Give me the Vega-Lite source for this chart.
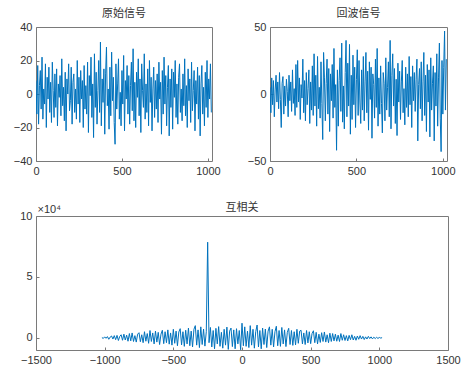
{
  "$schema": "https://vega.github.io/schema/vega-lite/v6.json",
  "padding": {"left": 12, "top": 7, "right": 5, "bottom": 5},
  "background": "white",
  "config": {
    "font": "Liberation Sans",
    "view": {"stroke": "#7a7a7a", "strokeWidth": 1},
    "axis": {"domain": false, "grid": false, "labelFontSize": 11, "labelColor": "#333333", "tickColor": "#7a7a7a", "tickSize": -3, "labelPadding": 7, "labelFlush": false, "labelOverlap": false, "format": "d"},
    "title": {"font": "Noto Sans CJK SC", "fontSize": 11, "fontWeight": "normal", "color": "#333333", "offset": 2},
    "line": {"color": "#0072BD", "strokeWidth": 1}
  },
  "datasets": {
    "sig": [
      {"x":0,"a":8,"b":5},{"x":5,"a":-12,"b":-14},{"x":10,"a":17,"b":12},{"x":15,"a":-18,"b":-8},{"x":20,"a":5,"b":10},{"x":25,"a":14,"b":-17},{"x":30,"a":-9,"b":3},{"x":35,"a":22,"b":14},{"x":40,"a":-15,"b":-6},{"x":45,"a":3,"b":9},
      {"x":50,"a":-6,"b":-11},{"x":55,"a":18,"b":16},{"x":60,"a":-20,"b":-4},{"x":65,"a":10,"b":-25},{"x":70,"a":-3,"b":8},{"x":75,"a":16,"b":13},{"x":80,"a":-11,"b":-15},{"x":85,"a":7,"b":6},{"x":90,"a":-17,"b":-9},{"x":95,"a":19,"b":11},
      {"x":100,"a":2,"b":2},{"x":105,"a":-14,"b":-17},{"x":110,"a":12,"b":14},{"x":115,"a":-8,"b":-5},{"x":120,"a":15,"b":9},{"x":125,"a":-19,"b":-13},{"x":130,"a":6,"b":18},{"x":135,"a":-2,"b":-7},{"x":140,"a":11,"b":4},{"x":145,"a":-13,"b":-16},
      {"x":150,"a":21,"b":22},{"x":155,"a":-7,"b":-10},{"x":160,"a":4,"b":25},{"x":165,"a":-16,"b":-6},{"x":170,"a":13,"b":12},{"x":175,"a":-22,"b":-19},{"x":180,"a":9,"b":7},{"x":185,"a":0,"b":-3},{"x":190,"a":18,"b":26},{"x":195,"a":-10,"b":-14},
      {"x":200,"a":-4,"b":10},{"x":205,"a":16,"b":-20},{"x":210,"a":-18,"b":16},{"x":215,"a":7,"b":-8},{"x":220,"a":12,"b":4},{"x":225,"a":-11,"b":18},{"x":230,"a":3,"b":-22},{"x":235,"a":-15,"b":9},{"x":240,"a":20,"b":-12},{"x":245,"a":-6,"b":21},
      {"x":250,"a":10,"b":-16},{"x":255,"a":-17,"b":30},{"x":260,"a":14,"b":-9},{"x":265,"a":-3,"b":14},{"x":270,"a":8,"b":-24},{"x":275,"a":-20,"b":28},{"x":280,"a":17,"b":-11},{"x":285,"a":-9,"b":5},{"x":290,"a":5,"b":-18},{"x":295,"a":-12,"b":24},
      {"x":300,"a":19,"b":-7},{"x":305,"a":-23,"b":-34},{"x":310,"a":11,"b":31},{"x":315,"a":-1,"b":12},{"x":320,"a":22,"b":-20},{"x":325,"a":-14,"b":8},{"x":330,"a":6,"b":26},{"x":335,"a":-26,"b":-15},{"x":340,"a":24,"b":19},{"x":345,"a":-8,"b":-28},
      {"x":350,"a":13,"b":15},{"x":355,"a":-18,"b":-5},{"x":360,"a":2,"b":22},{"x":365,"a":20,"b":-18},{"x":370,"a":-11,"b":34},{"x":375,"a":31,"b":-10},{"x":380,"a":-19,"b":7},{"x":385,"a":9,"b":-42},{"x":390,"a":-5,"b":18},{"x":395,"a":15,"b":-24},
      {"x":400,"a":-24,"b":10},{"x":405,"a":12,"b":27},{"x":410,"a":28,"b":-13},{"x":415,"a":-7,"b":38},{"x":420,"a":3,"b":-21},{"x":425,"a":-21,"b":6},{"x":430,"a":16,"b":-26},{"x":435,"a":-13,"b":16},{"x":440,"a":25,"b":40},{"x":445,"a":-4,"b":-17},
      {"x":450,"a":10,"b":23},{"x":455,"a":-17,"b":-9},{"x":460,"a":-30,"b":37},{"x":465,"a":18,"b":-30},{"x":470,"a":-9,"b":14},{"x":475,"a":6,"b":-19},{"x":480,"a":21,"b":29},{"x":485,"a":-15,"b":-8},{"x":490,"a":1,"b":20},{"x":495,"a":-19,"b":-25},
      {"x":500,"a":14,"b":11},{"x":505,"a":-6,"b":33},{"x":510,"a":23,"b":-16},{"x":515,"a":-22,"b":25},{"x":520,"a":8,"b":-6},{"x":525,"a":-3,"b":-22},{"x":530,"a":17,"b":18},{"x":535,"a":-12,"b":-12},{"x":540,"a":11,"b":28},{"x":545,"a":-18,"b":-20},
      {"x":550,"a":5,"b":9},{"x":555,"a":19,"b":31},{"x":560,"a":-10,"b":-14},{"x":565,"a":27,"b":17},{"x":570,"a":-16,"b":-27},{"x":575,"a":7,"b":24},{"x":580,"a":-20,"b":-4},{"x":585,"a":13,"b":20},{"x":590,"a":-2,"b":-33},{"x":595,"a":21,"b":15},
      {"x":600,"a":-13,"b":7},{"x":605,"a":9,"b":-18},{"x":610,"a":-23,"b":26},{"x":615,"a":18,"b":-10},{"x":620,"a":2,"b":34},{"x":625,"a":-8,"b":-24},{"x":630,"a":24,"b":12},{"x":635,"a":-15,"b":-15},{"x":640,"a":6,"b":21},{"x":645,"a":-11,"b":-7},
      {"x":650,"a":15,"b":-29},{"x":655,"a":-19,"b":16},{"x":660,"a":20,"b":8},{"x":665,"a":-5,"b":-20},{"x":670,"a":10,"b":27},{"x":675,"a":-22,"b":-12},{"x":680,"a":3,"b":5},{"x":685,"a":16,"b":24},{"x":690,"a":-14,"b":-17},{"x":695,"a":8,"b":40},
      {"x":700,"a":-9,"b":-26},{"x":705,"a":12,"b":14},{"x":710,"a":-17,"b":30},{"x":715,"a":19,"b":-9},{"x":720,"a":-3,"b":19},{"x":725,"a":7,"b":-22},{"x":730,"a":-24,"b":11},{"x":735,"a":14,"b":-31},{"x":740,"a":-12,"b":23},{"x":745,"a":22,"b":-6},
      {"x":750,"a":-6,"b":17},{"x":755,"a":11,"b":-19},{"x":760,"a":-19,"b":9},{"x":765,"a":4,"b":25},{"x":770,"a":17,"b":-14},{"x":775,"a":-25,"b":4},{"x":780,"a":9,"b":-23},{"x":785,"a":-8,"b":20},{"x":790,"a":15,"b":-10},{"x":795,"a":-21,"b":15},
      {"x":800,"a":13,"b":-17},{"x":805,"a":-2,"b":28},{"x":810,"a":20,"b":-8},{"x":815,"a":-14,"b":13},{"x":820,"a":6,"b":-25},{"x":825,"a":-18,"b":21},{"x":830,"a":10,"b":-5},{"x":835,"a":18,"b":16},{"x":840,"a":-11,"b":-13},{"x":845,"a":3,"b":11},
      {"x":850,"a":-16,"b":26},{"x":855,"a":12,"b":-35},{"x":860,"a":-7,"b":7},{"x":865,"a":21,"b":19},{"x":870,"a":-13,"b":-11},{"x":875,"a":5,"b":24},{"x":880,"a":-20,"b":-20},{"x":885,"a":15,"b":9},{"x":890,"a":-4,"b":31},{"x":895,"a":9,"b":-16},
      {"x":900,"a":-17,"b":14},{"x":905,"a":19,"b":-28},{"x":910,"a":-10,"b":22},{"x":915,"a":2,"b":-6},{"x":920,"a":14,"b":18},{"x":925,"a":-22,"b":-32},{"x":930,"a":8,"b":27},{"x":935,"a":-6,"b":-12},{"x":940,"a":16,"b":8},{"x":945,"a":-15,"b":21},
      {"x":950,"a":11,"b":-35},{"x":955,"a":-25,"b":16},{"x":960,"a":6,"b":-9},{"x":965,"a":17,"b":30},{"x":970,"a":-12,"b":-24},{"x":975,"a":4,"b":12},{"x":980,"a":-19,"b":38},{"x":985,"a":13,"b":-18},{"x":990,"a":-8,"b":-43},{"x":995,"a":20,"b":25},
      {"x":1000,"a":-14,"b":-15},{"x":1005,"a":9,"b":20},{"x":1010,"a":-3,"b":47},{"x":1015,"a":18,"b":-12},{"x":1020,"a":-11,"b":26}
    ],
    "xc": [
      {"lag":-1020,"c":0.02},{"lag":-1010,"c":-0.05},{"lag":-1000,"c":0.08},{"lag":-990,"c":-0.04},{"lag":-980,"c":0.1},{"lag":-970,"c":-0.12},{"lag":-960,"c":0.06},{"lag":-950,"c":0.15},{"lag":-940,"c":-0.1},{"lag":-930,"c":0.18},
      {"lag":-920,"c":-0.15},{"lag":-910,"c":0.2},{"lag":-900,"c":-0.22},{"lag":-890,"c":0.12},{"lag":-880,"c":0.25},{"lag":-870,"c":-0.2},{"lag":-860,"c":0.3},{"lag":-850,"c":-0.18},{"lag":-840,"c":0.22},{"lag":-830,"c":-0.28},
      {"lag":-820,"c":0.35},{"lag":-810,"c":-0.25},{"lag":-800,"c":0.4},{"lag":-790,"c":-0.3},{"lag":-780,"c":0.18},{"lag":-770,"c":-0.35},{"lag":-760,"c":0.3},{"lag":-750,"c":0.42},{"lag":-740,"c":-0.32},{"lag":-730,"c":0.25},
      {"lag":-720,"c":-0.4},{"lag":-710,"c":0.5},{"lag":-700,"c":-0.28},{"lag":-690,"c":0.35},{"lag":-680,"c":-0.45},{"lag":-670,"c":0.6},{"lag":-660,"c":-0.3},{"lag":-650,"c":0.4},{"lag":-640,"c":-0.5},{"lag":-630,"c":0.55},
      {"lag":-620,"c":-0.35},{"lag":-610,"c":0.45},{"lag":-600,"c":-0.55},{"lag":-590,"c":0.3},{"lag":-580,"c":0.62},{"lag":-570,"c":-0.48},{"lag":-560,"c":0.5},{"lag":-550,"c":-0.4},{"lag":-540,"c":0.65},{"lag":-530,"c":-0.52},
      {"lag":-520,"c":0.4},{"lag":-510,"c":-0.6},{"lag":-500,"c":0.7},{"lag":-490,"c":-0.45},{"lag":-480,"c":0.55},{"lag":-470,"c":-0.65},{"lag":-460,"c":0.48},{"lag":-450,"c":0.75},{"lag":-440,"c":-0.58},{"lag":-430,"c":0.5},
      {"lag":-420,"c":-0.7},{"lag":-410,"c":0.62},{"lag":-400,"c":-0.5},{"lag":-390,"c":0.8},{"lag":-380,"c":-0.65},{"lag":-370,"c":0.55},{"lag":-360,"c":-0.75},{"lag":-350,"c":0.7},{"lag":-340,"c":1.0},{"lag":-330,"c":-0.6},
      {"lag":-320,"c":0.65},{"lag":-310,"c":-0.8},{"lag":-300,"c":0.9},{"lag":-290,"c":-0.55},{"lag":-280,"c":0.72},{"lag":-270,"c":-0.68},{"lag":-260,"c":0.5},{"lag":-250,"c":7.85},{"lag":-240,"c":-0.4},{"lag":-230,"c":0.85},
      {"lag":-220,"c":-0.75},{"lag":-210,"c":0.6},{"lag":-200,"c":-0.9},{"lag":-190,"c":0.78},{"lag":-180,"c":-0.5},{"lag":-170,"c":0.92},{"lag":-160,"c":-0.7},{"lag":-150,"c":0.45},{"lag":-140,"c":-0.85},{"lag":-130,"c":0.7},
      {"lag":-120,"c":-0.6},{"lag":-110,"c":0.88},{"lag":-100,"c":-0.95},{"lag":-90,"c":0.55},{"lag":-80,"c":0.8},{"lag":-70,"c":-0.72},{"lag":-60,"c":0.65},{"lag":-50,"c":-0.9},{"lag":-40,"c":0.75},{"lag":-30,"c":-0.5},
      {"lag":-20,"c":0.6},{"lag":-10,"c":-0.98},{"lag":0,"c":1.2},{"lag":10,"c":-0.65},{"lag":20,"c":0.9},{"lag":30,"c":-0.7},{"lag":40,"c":0.55},{"lag":50,"c":-0.8},{"lag":60,"c":1.0},{"lag":70,"c":-0.6},
      {"lag":80,"c":0.7},{"lag":90,"c":-0.85},{"lag":100,"c":0.5},{"lag":110,"c":1.05},{"lag":120,"c":-0.75},{"lag":130,"c":0.6},{"lag":140,"c":-0.9},{"lag":150,"c":0.8},{"lag":160,"c":-0.55},{"lag":170,"c":0.72},
      {"lag":180,"c":-0.8},{"lag":190,"c":0.55},{"lag":200,"c":0.9},{"lag":210,"c":-0.6},{"lag":220,"c":0.7},{"lag":230,"c":-0.75},{"lag":240,"c":0.5},{"lag":250,"c":0.95},{"lag":260,"c":-0.65},{"lag":270,"c":0.6},
      {"lag":280,"c":-0.7},{"lag":290,"c":0.85},{"lag":300,"c":-0.5},{"lag":310,"c":0.65},{"lag":320,"c":-0.72},{"lag":330,"c":0.45},{"lag":340,"c":0.78},{"lag":350,"c":-0.55},{"lag":360,"c":0.6},{"lag":370,"c":-0.62},
      {"lag":380,"c":0.5},{"lag":390,"c":-0.58},{"lag":400,"c":0.7},{"lag":410,"c":-0.45},{"lag":420,"c":0.55},{"lag":430,"c":0.62},{"lag":440,"c":-0.5},{"lag":450,"c":0.4},{"lag":460,"c":-0.55},{"lag":470,"c":0.6},
      {"lag":480,"c":-0.42},{"lag":490,"c":0.5},{"lag":500,"c":-0.48},{"lag":510,"c":0.35},{"lag":520,"c":0.58},{"lag":530,"c":-0.4},{"lag":540,"c":0.45},{"lag":550,"c":-0.5},{"lag":560,"c":0.3},{"lag":570,"c":-0.38},
      {"lag":580,"c":0.42},{"lag":590,"c":-0.3},{"lag":600,"c":0.48},{"lag":610,"c":-0.35},{"lag":620,"c":0.25},{"lag":630,"c":-0.4},{"lag":640,"c":0.38},{"lag":650,"c":-0.3},{"lag":660,"c":0.35},{"lag":670,"c":-0.25},
      {"lag":680,"c":0.3},{"lag":690,"c":-0.28},{"lag":700,"c":0.22},{"lag":710,"c":-0.3},{"lag":720,"c":0.35},{"lag":730,"c":-0.2},{"lag":740,"c":0.25},{"lag":750,"c":-0.22},{"lag":760,"c":0.18},{"lag":770,"c":-0.25},
      {"lag":780,"c":0.2},{"lag":790,"c":-0.15},{"lag":800,"c":0.25},{"lag":810,"c":-0.18},{"lag":820,"c":0.12},{"lag":830,"c":-0.2},{"lag":840,"c":0.15},{"lag":850,"c":-0.12},{"lag":860,"c":0.18},{"lag":870,"c":-0.1},
      {"lag":880,"c":0.12},{"lag":890,"c":-0.14},{"lag":900,"c":0.08},{"lag":910,"c":-0.1},{"lag":920,"c":0.12},{"lag":930,"c":-0.06},{"lag":940,"c":0.08},{"lag":950,"c":-0.09},{"lag":960,"c":0.05},{"lag":970,"c":-0.06},
      {"lag":980,"c":0.04},{"lag":990,"c":-0.05},{"lag":1000,"c":0.03},{"lag":1010,"c":-0.02},{"lag":1020,"c":0.01}
    ]
  },
  "vconcat": [
    {
      "hconcat": [
        {
          "title": "原始信号",
          "width": 176, "height": 134,
          "data": {"name": "sig"},
          "mark": {"type": "line", "clip": true},
          "encoding": {
            "x": {"field": "x", "type": "quantitative", "scale": {"domain": [0, 1024], "nice": false}, "axis": {"title": null, "values": [0, 500, 1000]}},
            "y": {"field": "a", "type": "quantitative", "scale": {"domain": [-40, 40], "nice": false}, "axis": {"title": null, "values": [-40, -20, 0, 20, 40]}}
          }
        },
        {
          "title": "回波信号",
          "width": 177, "height": 134,
          "data": {"name": "sig"},
          "mark": {"type": "line", "clip": true},
          "encoding": {
            "x": {"field": "x", "type": "quantitative", "scale": {"domain": [0, 1024], "nice": false}, "axis": {"title": null, "values": [0, 500, 1000]}},
            "y": {"field": "b", "type": "quantitative", "scale": {"domain": [-50, 50], "nice": false}, "axis": {"title": null, "values": [-50, 0, 50]}}
          }
        }
      ],
      "spacing": 58,
      "bounds": "flush"
    },
    {
      "title": {"text": "互相关", "offset": -10},
      "width": 412, "height": 134,
      "data": {"name": "xc"},
      "mark": {"type": "line", "clip": true},
      "encoding": {
        "x": {"field": "lag", "type": "quantitative", "scale": {"domain": [-1500, 1500], "nice": false}, "axis": {"title": null, "values": [-1500, -1000, -500, 0, 500, 1000, 1500]}},
        "y": {"field": "c", "type": "quantitative", "scale": {"domain": [-1, 10], "nice": false}, "axis": {"title": "×10⁴", "values": [0, 5, 10], "titleAngle": 0, "titleX": 1, "titleY": -2, "titleAlign": "left", "titleBaseline": "bottom", "titleFontWeight": "normal", "titleFontSize": 11, "titleColor": "#333333", "titleFont": "Liberation Sans"}}
      }
    }
  ],
  "spacing": 24
}
